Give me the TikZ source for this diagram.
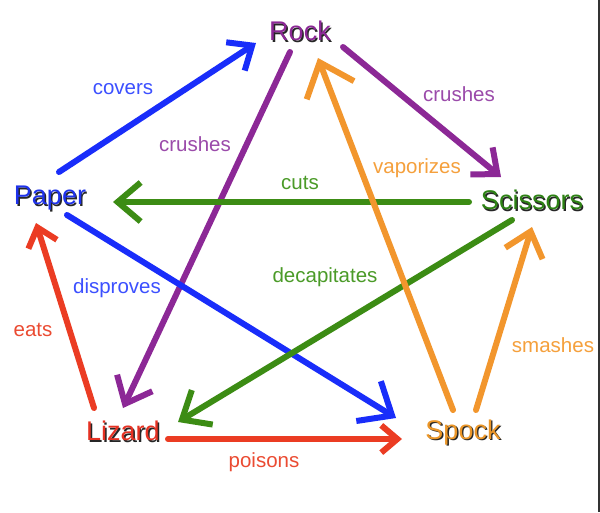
\documentclass[tikz,border=0pt]{standalone}
\usepackage{fontspec}
\setmainfont{Liberation Sans}
\usetikzlibrary{arrows.meta}
\definecolor{cblue}{RGB}{25,45,250}
\definecolor{cpurple}{RGB}{140,40,150}
\definecolor{cgreen}{RGB}{60,140,20}
\definecolor{cred}{RGB}{235,60,35}
\definecolor{corange}{RGB}{242,150,45}
\definecolor{lblue}{RGB}{60,80,255}
\definecolor{lpurple}{RGB}{155,75,170}
\definecolor{lgreen}{RGB}{75,155,40}
\definecolor{lred}{RGB}{235,75,50}
\definecolor{lorange}{RGB}{245,160,60}
\definecolor{nblue}{RGB}{30,50,235}
\definecolor{npurple}{RGB}{140,40,150}
\definecolor{ngreen}{RGB}{45,130,20}
\definecolor{nred}{RGB}{230,50,35}
\definecolor{norange}{RGB}{235,150,40}
\newcommand\shadowed[2]{\rlap{\raisebox{-1.4pt}{\hspace{1.4pt}\color{black!85}#2}}{\color{#1}#2}}
\tikzset{
  player/.style={inner sep=0pt, font=\fontsize{27}{30}\selectfont},
  lbl/.style={inner sep=0pt, font=\fontsize{20.5}{22}\selectfont},
  arr/.style={line width=6pt, line cap=round,
    -{Straight Barb[length=#1*0.766pt, width=#1*1.3pt]}},
}
\begin{document}
\begin{tikzpicture}[x=1pt,y=-1pt]
\useasboundingbox (0,0) rectangle (600,512);
\fill[white] (0,0) rectangle (600,512);
\fill[black!80] (598,0) rectangle (600,512);
% players
\node[player] (rock) at (300,32) {\shadowed{npurple}{Rock}};
\node[player] (paper) at (50,199) {\shadowed{nblue}{Paper}};
\node[player] (scissors) at (532,201) {\shadowed{ngreen}{Scissors}};
\node[player] (lizard) at (123,432) {\shadowed{nred}{Lizard}};
\node[player] (spock) at (463,433) {\shadowed{norange}{Spock}};
% arrows
\draw[arr=26, cblue] ([shift={(9,-27)}]paper.center) -- ([shift={(-44,11)}]rock.center);
\draw[arr=27, cpurple] ([shift={(43,15)}]rock.center) -- ([shift={(-31,-24)}]scissors.center);
\draw[arr=30, cpurple] ([shift={(-10,20)}]rock.center) -- ([shift={(0,-24)}]lizard.center);
\draw[arr=30, cgreen] ([shift={(-63,1)}]scissors.center) -- ([shift={(63,3)}]paper.center);
\draw[arr=36, cblue] ([shift={(17,16)}]paper.center) -- ([shift={(-67,-15)}]spock.center);
\draw[arr=31, cgreen] ([shift={(-20,19)}]scissors.center) -- ([shift={(55,-10)}]lizard.center);
\draw[arr=23, cred] ([shift={(-29,-24)}]lizard.center) -- ([shift={(-14,24)}]paper.center);
\draw[arr=21, cred] ([shift={(45,7)}]lizard.center) -- ([shift={(-61,6)}]spock.center);
\draw[arr=39, corange] ([shift={(-10,-23)}]spock.center) -- ([shift={(18,26)}]rock.center);
\draw[arr=30, corange] ([shift={(13,-23)}]spock.center) -- ([shift={(0,26)}]scissors.center);
% labels
\node[lbl, text=lblue] (l1) at (123,89) {covers};
\node[lbl, text=lpurple] (l2) at (459,94) {crushes};
\node[lbl, text=lpurple] (l3) at (195,144) {crushes};
\node[lbl, text=lgreen] (l4) at (300,183) {cuts};
\node[lbl, text=lorange] (l5) at (417,168) {vaporizes};
\node[lbl, text=lgreen] (l6) at (325,277) {decapitates};
\node[lbl, text=lblue] (l7) at (117,288) {disproves};
\node[lbl, text=lred] (l8) at (33,330) {eats};
\node[lbl, text=lorange] (l9) at (553,345) {smashes};
\node[lbl, text=lred] (l10) at (264,462) {poisons};
\end{tikzpicture}
\end{document}
